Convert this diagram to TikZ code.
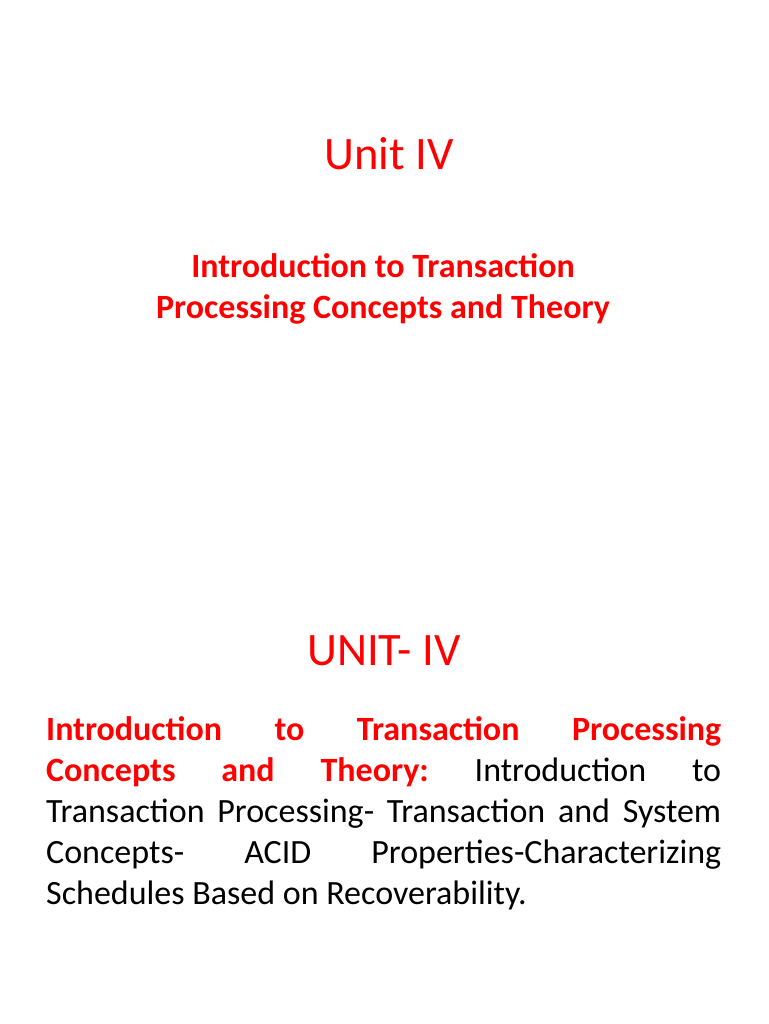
\documentclass[tikz,border=0pt]{standalone}
\usepackage{fontspec}
\setmainfont{Carlito}
\definecolor{slidered}{RGB}{255,0,0}
\begin{document}
\frenchspacing
\begin{tikzpicture}[x=1pt,y=-1pt,
  title/.style={text=slidered,font=\fontsize{46.5}{48}\selectfont,inner sep=0pt,anchor=base},
  sub/.style={text=slidered,font=\bfseries\fontsize{34}{41}\selectfont,align=center,inner sep=0pt}]
\useasboundingbox[fill=white] (0,0) rectangle (768,1024);
\node[title] (t1) at (389,170) {Unit IV};
\node[sub,anchor=base] (s1) at (383,318) {Introduction to Transaction\\Processing Concepts and Theory};
\node[title] (t2) at (384,665) {UNIT- IV};
\node[inner sep=0pt,anchor=north west,text width=675pt,align=justify,
  font=\fontsize{34}{41}\selectfont] (p) at (46,716)
  {\frenchspacing\textcolor{slidered}{\textbf{Introduction to Transaction Processing\linebreak Concepts and Theory:}} Introduction to\linebreak Transaction Processing- Transaction and System\linebreak Concepts- ACID Properties-Characterizing\linebreak Schedules Based on Recoverability.};
\end{tikzpicture}
\end{document}
